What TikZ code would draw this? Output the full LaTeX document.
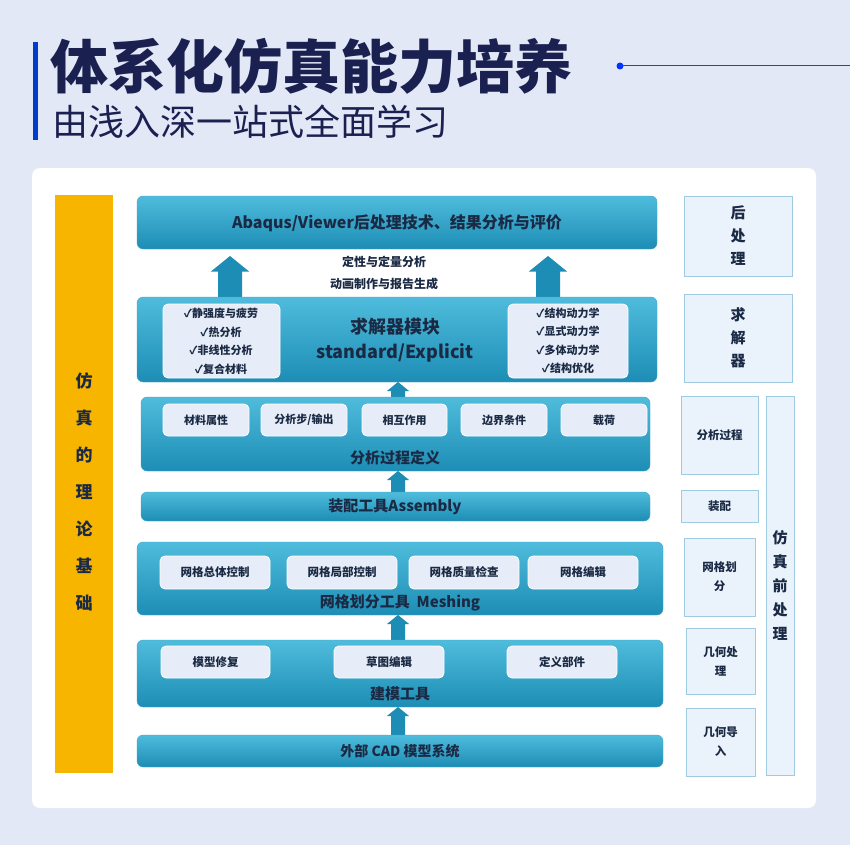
\documentclass[tikz,border=0pt]{standalone}
\usepackage{fontspec}
\setmainfont{Noto Sans CJK SC}
\usetikzlibrary{shadings}
\definecolor{bg}{HTML}{E3E8F7}
\definecolor{navy}{HTML}{1A2050}
\definecolor{tealA}{HTML}{4FBCDC}
\definecolor{tealB}{HTML}{1D8DB5}
\definecolor{inner}{HTML}{E6EDF8}
\definecolor{side}{HTML}{EAF3FB}
\definecolor{sideb}{HTML}{9FCBE0}
\definecolor{orng}{HTML}{F7B500}
\definecolor{txt}{HTML}{1B2A44}
\tikzset{
 tbox/.style={rounded corners=6pt,top color=tealA,bottom color=tealB,draw=tealB!80!white},
 ibox/.style={rounded corners=5pt,fill=inner,draw=white,line width=0.8pt},
 sbox/.style={fill=side,draw=sideb,line width=0.8pt},
 lab/.style={font=\bfseries,text=txt,align=center,inner sep=0pt},
}
\newcommand\uparrw[4]{\fill[tealB] (#1-#4,#2) -- (#1-#4,#3+#4*1.3) -- (#1-#4*1.6,#3+#4*1.3) -- (#1,#3) -- (#1+#4*1.6,#3+#4*1.3) -- (#1+#4,#3+#4*1.3) -- (#1+#4,#2) -- cycle;}
\begin{document}
\begin{tikzpicture}[x=1pt,y=-1pt]
\fill[bg] (0,0) rectangle (850,845);
\useasboundingbox (0,0) rectangle (850,845);
% title
\fill[blue!70!cyan!80!black] (33,42) rectangle (38,140);
\node[anchor=west,font=\bfseries\fontsize{58}{60}\selectfont,text=navy,inner sep=0pt] (title) at (50,66) {体系化仿真能力培养};
\fill[blue!80!cyan] (620,66) circle (3.5);
\draw[blue!60!cyan!80!black,line width=1pt] (620,66) -- (850,66);
\node[anchor=west,font=\fontsize{36}{38}\selectfont,text=navy,inner sep=0pt] (sub) at (52,122) {由浅入深一站式全面学习};
% panel
\fill[white,rounded corners=8pt] (32,168) rectangle (816,808);
% left bar
\fill[orng] (55,195) rectangle (113,773);
\node[lab,font=\bfseries\fontsize{17}{37}\selectfont] (theory) at (84,492) {仿\\真\\的\\理\\论\\基\\础};
% top
\draw[tbox] (137,196) rectangle (657,249);
\node[lab,font=\bfseries\fontsize{16}{18}\selectfont] (post) at (397,223) {Abaqus/Viewer后处理技术、结果分析与评价};
\uparrw{230}{297}{256}{12}
\uparrw{548}{297}{256}{12}
\node[lab,font=\bfseries\fontsize{12}{22}\selectfont] (pa) at (384,273) {定性与定量分析\\动画制作与报告生成};
% solver
\draw[tbox] (137,297) rectangle (657,382);
\draw[ibox] (163,304) rectangle (280,378);
\draw[ibox] (508,304) rectangle (628,378);
\node[lab,font=\bfseries\fontsize{11}{18.5}\selectfont] (sl) at (221,341) {✓静强度与疲劳\\✓热分析\\✓非线性分析\\✓复合材料};
\node[lab,font=\bfseries\fontsize{11}{18.5}\selectfont] (sr) at (568,341) {✓结构动力学\\✓显式动力学\\✓多体动力学\\✓结构优化};
\node[lab,font=\bfseries\fontsize{18}{25}\selectfont] (solv) at (395,340) {求解器模块\\standard/Explicit};
\uparrw{398}{397}{382}{7}
% analysis
\draw[tbox] (141,397) rectangle (650,471);
\foreach \a/\b/\t in {163/249/{材料属性},261/347/{分析步/输出},362/447/{相互作用},461/547/{边界条件},561/647/{载荷}}{
 \draw[ibox] (\a,404) rectangle (\b,436);
 \node[lab,font=\bfseries\fontsize{11}{13}\selectfont] at ({(\a+\b)/2},420) {\t};}
\node[lab,font=\bfseries\fontsize{15}{17}\selectfont] (ana) at (395,458) {分析过程定义};
\uparrw{398}{492}{471}{7}
% assembly
\draw[tbox] (141,492) rectangle (650,521);
\node[lab,font=\bfseries\fontsize{15}{17}\selectfont] (asm) at (395,507) {装配工具Assembly};
% mesh
\draw[tbox] (137,542) rectangle (663,615);
\foreach \a/\b/\t in {160/270/网格总体控制,287/397/网格局部控制,409/519/网格质量检查,528/638/网格编辑}{
 \draw[ibox] (\a,556) rectangle (\b,589);
 \node[lab,font=\bfseries\fontsize{11.5}{13}\selectfont] at ({(\a+\b)/2},572.5) {\t};}
\node[lab,font=\bfseries\fontsize{15}{17}\selectfont] (mesh) at (400,603) {网格划分工具\ \ Meshing};
\uparrw{398}{640}{615}{7}
% modeling
\draw[tbox] (137,640) rectangle (663,707);
\foreach \a/\b/\t in {161/270/模型修复,334/444/草图编辑,507/617/定义部件}{
 \draw[ibox] (\a,646) rectangle (\b,678);
 \node[lab,font=\bfseries\fontsize{11.5}{13}\selectfont] at ({(\a+\b)/2},662) {\t};}
\node[lab,font=\bfseries\fontsize{15}{17}\selectfont] (model) at (400,694) {建模工具};
\uparrw{398}{735}{707}{7}
% CAD
\draw[tbox] (137,735) rectangle (663,767);
\node[lab,font=\bfseries\fontsize{14}{16}\selectfont] (cad) at (400,751) {外部 CAD 模型系统};
% right side
\draw[sbox] (684,196) rectangle (792,276);
\node[lab,font=\bfseries\fontsize{15}{23}\selectfont] (r1) at (738,236) {后\\处\\理};
\draw[sbox] (684,294) rectangle (792,382);
\node[lab,font=\bfseries\fontsize{15}{23}\selectfont] (r2) at (738,338) {求\\解\\器};
\draw[sbox] (681,396) rectangle (758,474);
\node[lab,font=\bfseries\fontsize{11.5}{14}\selectfont] (r3) at (719.5,435) {分析过程};
\draw[sbox] (681,490) rectangle (758,522);
\node[lab,font=\bfseries\fontsize{11.5}{14}\selectfont] (r4) at (719.5,506) {装配};
\draw[sbox] (684,538) rectangle (755,616);
\node[lab,font=\bfseries\fontsize{11.5}{19}\selectfont] (r5) at (719.5,577) {网格划\\分};
\draw[sbox] (686,628) rectangle (755,694);
\node[lab,font=\bfseries\fontsize{11.5}{19}\selectfont] (r6) at (720.5,661) {几何处\\理};
\draw[sbox] (686,708) rectangle (755,776);
\node[lab,font=\bfseries\fontsize{11.5}{19}\selectfont] (r7) at (720.5,742) {几何导\\入};
\draw[sbox] (766,396) rectangle (794,775);
\node[lab,font=\bfseries\fontsize{15}{24}\selectfont] (r8) at (780,585) {仿\\真\\前\\处\\理};
\end{tikzpicture}
\end{document}
